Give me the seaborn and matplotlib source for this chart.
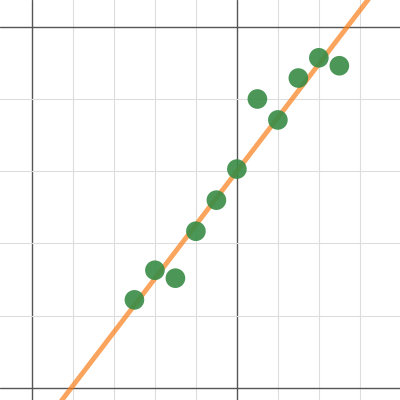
import matplotlib
matplotlib.use("Agg")
import matplotlib.pyplot as plt
import seaborn as sns
import numpy as np
import pandas as pd

xs = [-2.5, -2, -1.5, -1, -0.5, 0, 0.5, 1, 1.5, 2, 2.5]
ys = [1.22, 1.63, 1.52, 2.17, 2.60, 3.03, 4.00, 3.71, 4.29, 4.57, 4.46]
slope = 0.742
intercept = 3.00

sns.set_style("white")
fig = plt.figure(figsize=(4, 4), dpi=100)
ax = fig.add_axes([0, 0, 1, 1])
xlim = (-5.78, 3.98)
ylim = (-0.166, 5.37)
for v in range(-5, 4):
    ax.axvline(v, color="#555" if v % 5 == 0 else "#ddd", lw=1 if v % 5 == 0 else 0.8, zorder=0)
for v in range(0, 6):
    ax.axhline(v, color="#555" if v % 5 == 0 else "#ddd", lw=1 if v % 5 == 0 else 0.8, zorder=0)
lx = np.array([-5, 4.5])
sns.lineplot(x=lx, y=slope * lx + intercept, ax=ax, color="#fa7e19", alpha=0.7, lw=3.5, zorder=2)
sns.scatterplot(x=xs, y=ys, ax=ax, color="#388c46", s=200, edgecolor="none", alpha=0.9, zorder=3)
ax.set_xlim(*xlim)
ax.set_ylim(*ylim)
ax.set_xticks([]); ax.set_yticks([])
for s in ax.spines.values():
    s.set_visible(False)
fig.savefig("out.png", dpi=100)
